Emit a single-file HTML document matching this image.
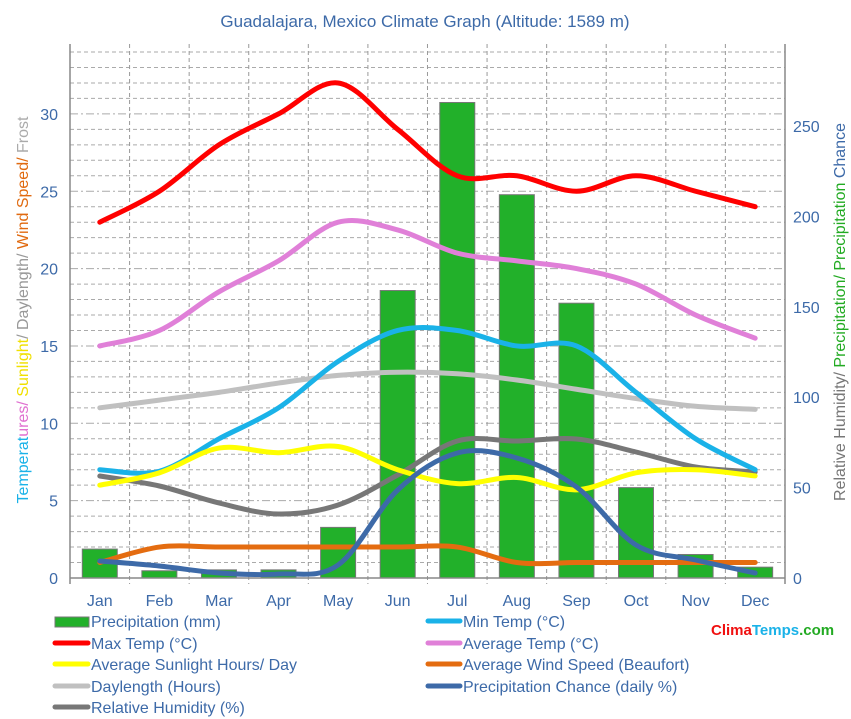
<!DOCTYPE html><html><head><style>body{margin:0;background:#fff}svg{display:block;font-family:"Liberation Sans",sans-serif}</style></head><body>
<svg id="s" width="851" height="719" xmlns="http://www.w3.org/2000/svg">
<text x="425" y="27" text-anchor="middle" font-size="17" fill="#3d6aa8">Guadalajara, Mexico Climate Graph (Altitude: 1589 m)</text>
<g id="grid"></g><g id="bars"></g><g id="lines"></g>
<line x1="70" y1="44" x2="70" y2="584" stroke="#888" stroke-width="1.5"/>
<line x1="785" y1="44" x2="785" y2="584" stroke="#888" stroke-width="1.5"/>
<line x1="70" y1="578" x2="785" y2="578" stroke="#888" stroke-width="1.5"/>
<g font-size="16" fill="#3d6aa8" text-anchor="end" id="ly"></g>
<g font-size="16" fill="#3d6aa8" id="ry"></g>
<g font-size="16" fill="#3d6aa8" text-anchor="middle" id="mx"></g>
<text transform="translate(28,310) rotate(-90)" text-anchor="middle" font-size="16"><tspan fill="#1ab2e8">Temperat</tspan><tspan fill="#e070d0">ures/</tspan><tspan fill="#f0e000"> Sunlight</tspan><tspan fill="#999">/ Daylength/ </tspan><tspan fill="#e06a10">Wind Speed/</tspan><tspan fill="#aaa"> Frost</tspan></text>
<text transform="translate(845,312) rotate(-90)" text-anchor="middle" font-size="16"><tspan fill="#777">Relative Humidity/ </tspan><tspan fill="#22aa22">Precipitation/ Precipitation</tspan><tspan fill="#3d6aa8"> Chance</tspan></text>
<g font-size="16" fill="#3d6aa8">
<rect x="55" y="617" width="34" height="10" fill="#22b02a" stroke="#777"/><text x="91" y="627">Precipitation (mm)</text>
<line x1="55" y1="643" x2="88" y2="643" stroke="#f00" stroke-width="5" stroke-linecap="round"/><text x="91" y="649">Max Temp (°C)</text>
<line x1="55" y1="664" x2="88" y2="664" stroke="#ff0" stroke-width="5" stroke-linecap="round"/><text x="91" y="670">Average Sunlight Hours/ Day</text>
<line x1="55" y1="686" x2="88" y2="686" stroke="#c0c0c0" stroke-width="5" stroke-linecap="round"/><text x="91" y="692">Daylength (Hours)</text>
<line x1="55" y1="707" x2="88" y2="707" stroke="#777" stroke-width="5" stroke-linecap="round"/><text x="91" y="713">Relative Humidity (%)</text>
<line x1="428" y1="621" x2="460" y2="621" stroke="#1ab2e8" stroke-width="5" stroke-linecap="round"/><text x="463" y="627">Min Temp (°C)</text>
<line x1="428" y1="643" x2="460" y2="643" stroke="#e080d8" stroke-width="5" stroke-linecap="round"/><text x="463" y="649">Average Temp (°C)</text>
<line x1="428" y1="664" x2="460" y2="664" stroke="#e46c10" stroke-width="5" stroke-linecap="round"/><text x="463" y="670">Average Wind Speed (Beaufort)</text>
<line x1="428" y1="686" x2="460" y2="686" stroke="#3d6aa8" stroke-width="5" stroke-linecap="round"/><text x="463" y="692">Precipitation Chance (daily %)</text>
</g>
<text x="711" y="635" font-size="15" font-weight="bold"><tspan fill="#f01010">Clima</tspan><tspan fill="#1ab2e8">Temps</tspan><tspan fill="#22aa22">.com</tspan></text>
</svg>
<script>
var NS="http://www.w3.org/2000/svg";function el(p,t,a,tx){var e=document.createElementNS(NS,t);for(var k in a)e.setAttribute(k,a[k]);if(tx!=null)e.textContent=tx;document.getElementById(p).appendChild(e);}
var L=70,W=59.58,X=i=>L+W*(i+0.5),Y=v=>578-v*15.47,R=v=>578-v*1.808;
for(var k=1;k<=34;k++){var y=Y(k);el("grid","line",{x1:70,x2:785,y1:y,y2:y,stroke:"#aaa","stroke-dasharray":k%5?"4,3":"8,3,2,3"});}
for(var i=1;i<12;i++){var x=L+W*i;el("grid","line",{x1:x,x2:x,y1:44,y2:584,stroke:"#999","stroke-dasharray":"4,3"});}
for(var k=0;k<=30;k+=5)el("ly","text",{x:58,y:Y(k)+6},k);
for(var k=0;k<=250;k+=50)el("ry","text",{x:793,y:R(k)+6},k);
"Jan Feb Mar Apr May Jun Jul Aug Sep Oct Nov Dec".split(" ").forEach((m,i)=>el("mx","text",{x:X(i),y:606},m));
[16,4,4.5,4.5,28,159,263,212,152,50,13,6].forEach((v,i)=>el("bars","rect",{x:X(i)-17.5,y:R(v),width:35,height:578-R(v),fill:"#22b02a",stroke:"#777"}));
function path(ys,c,w){var p=ys.map((y,i)=>[X(i),y]);var d="M"+p[0];for(var i=0;i<p.length-1;i++){var a=p[i-1]||p[i],b=p[i],c2=p[i+1],e=p[i+2]||c2;d+=" C"+(b[0]+(c2[0]-a[0])/6)+","+(b[1]+(c2[1]-a[1])/6)+" "+(c2[0]-(e[0]-b[0])/6)+","+(c2[1]-(e[1]-b[1])/6)+" "+c2;}el("lines","path",{d:d,fill:"none",stroke:c,"stroke-width":w,"stroke-linecap":"round"});}
var T=a=>a.map(Y);
path(T([11,11.5,12,12.6,13.1,13.3,13.2,12.8,12.2,11.6,11.1,10.9]),"#c0c0c0",5);
path([476,486,503,514,505,475,441,441,439,452,467,472],"#777",5);
path(T([23,25,28,30,32,29,26,26,25,26,25,24]),"#f00",5);
path(T([15,16,18.5,20.5,23,22.5,21,20.5,20,19,17,15.5]),"#e080d8",5);
path(T([7,6.9,9,11,14,16,16,15,15,12,9,7]),"#1ab2e8",5);
path(T([6,6.8,8.4,8.1,8.5,7,6.1,6.5,5.7,6.8,7,6.6]),"#ff0",5);
path(T([1,2,2,2,2,2,2,1,1,1,1,1]),"#e46c10",5);
path([561,566,573,574,565,490,453,458,487,545,560,573],"#3d6aa8",5);
</script></body></html>
